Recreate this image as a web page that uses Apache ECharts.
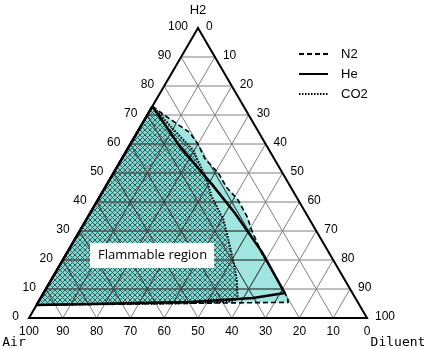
<!DOCTYPE html>
<html>
<head>
<meta charset="utf-8">
<script src="https://cdn.jsdelivr.net/npm/echarts@6/dist/echarts.min.js"></script>
<style>
html, body { margin: 0; padding: 0; background: #fff; }
#chart { width: 425px; height: 349px; }
</style>
</head>
<body>
<div id="chart"></div>
<script>
// tick values (percent)
const ticks = [0, 10, 20, 30, 40, 50, 60, 70, 80, 90, 100];
const gridSteps = [10, 20, 30, 40, 50, 60, 70, 80, 90];

// flammability boundaries, % H2 and % diluent (air = rest)
const n2H2 = [73, 70, 64, 60, 55, 50, 45, 40.7, 35, 30, 22, 16.6, 10, 7, 5.4, 5, 4.5, 73];
const n2Diluent = [0, 5, 15.5, 20, 24.5, 31, 36, 41.5, 47, 51, 58, 63.6, 70, 73, 74, 40, 0, 0];

const heH2 = [73, 59, 46, 36.2, 22.8, 10.3, 8.6, 6.9, 5.5, 4.5, 73];
const heDiluent = [0, 15.2, 31.2, 42.8, 57.5, 69.7, 71.4, 62.8, 45, 0, 0];

const co2H2 = [73, 66, 58, 48, 42, 34, 27, 20, 13, 6.5, 5.5, 5, 4.5, 73];
const co2Diluent = [0, 9, 19.5, 28.5, 33, 40.5, 45.5, 50.4, 55, 58.5, 56, 40, 0, 0];

const SQ = Math.sqrt(3) / 2;
function toXY(h, d) { return [d + h / 2, h * SQ]; }
function path(hs, ds) { return hs.map((h, i) => toXY(h, ds[i])); }

const n2Pts = path(n2H2, n2Diluent);
const hePts = path(heH2, heDiluent);
const co2Pts = path(co2H2, co2Diluent);

// cross hatch for the CO2 area
let pat = document.createElement('canvas');
pat.width = 5; pat.height = 5;
let pc = pat.getContext('2d');
pc.fillStyle = '#80d9d2';
pc.fillRect(0, 0, 5, 5);
pc.strokeStyle = '#355b58';
pc.lineWidth = 1;
pc.beginPath();
pc.moveTo(0, 0); pc.lineTo(5, 5);
pc.moveTo(5, 0); pc.lineTo(0, 5);
pc.stroke();

const tickFont = '12px "Liberation Sans", Arial, sans-serif';

let chart = echarts.init(document.getElementById('chart'));

function polygonSeries(pts, style, z) {
    return {
        type: 'custom',
        data: [[0, 0]],
        silent: true,
        z: z,
        renderItem: function (params, api) {
            return {
                type: 'polygon',
                shape: { points: pts.map(p => api.coord(p)) },
                style: style
            };
        }
    };
}

// grid lines, optionally clipped to the N2 area (darker there)
function gridSeries(color, clipPts, z) {
    return {
        type: 'custom',
        data: [[0, 0]],
        silent: true,
        z: z,
        renderItem: function (params, api) {
            let kids = [];
            function seg(a, b) {
                let p1 = api.coord(a), p2 = api.coord(b);
                kids.push({
                    type: 'line',
                    shape: { x1: p1[0], y1: p1[1], x2: p2[0], y2: p2[1] },
                    style: { stroke: color, lineWidth: 1 }
                });
            }
            gridSteps.forEach(v => {
                seg(toXY(v, 0), toXY(v, 100 - v));
                seg(toXY(0, v), toXY(100 - v, v));
                seg(toXY(0, 100 - v), toXY(100 - v, 0));
            });
            let g = { type: 'group', children: kids };
            if (clipPts) {
                g.clipPath = { type: 'polygon', shape: { points: clipPts.map(p => api.coord(p)) } };
            }
            return g;
        }
    };
}

let option = {
    animation: false,
    grid: { left: 29, top: 28, width: 338, height: 290 },
    xAxis: { type: 'value', min: 0, max: 100, show: false },
    yAxis: { type: 'value', min: 0, max: 100 * SQ, show: false },
    legend: {
        orient: 'vertical',
        left: 293,
        top: 42,
        itemWidth: 29,
        itemHeight: 8,
        itemGap: 6,
        data: ['N2', 'He', 'CO2'],
        textStyle: {
            fontSize: 13, lineHeight: 14, color: '#000',
            fontFamily: 'Liberation Sans, Arial, sans-serif',
            padding: [0, 0, 0, 8]
        }
    },
    graphic: [{
        type: 'text',
        left: 90,
        top: 243,
        z: 100,
        style: {
            text: 'Flammable region',
            font: '13px "Open Sans", sans-serif',
            fill: '#000',
            backgroundColor: '#fff',
            padding: [6, 7, 6, 8]
        }
    }],
    series: [
        polygonSeries(n2Pts, { fill: '#a0e5e0' }, 1),
        polygonSeries(co2Pts, { fill: { image: pat, repeat: 'repeat' } }, 2),
        gridSeries('#808080', null, 3),
        gridSeries('#2f3f3f', n2Pts, 3),
        {
            name: 'N2', type: 'line', data: n2Pts, symbol: 'none', silent: true, z: 4,
            lineStyle: { color: '#000', width: 1.6, type: [5, 3] }, itemStyle: { color: '#000', opacity: 0 }
        },
        {
            name: 'He', type: 'line', data: hePts, symbol: 'none', silent: true, z: 5,
            lineStyle: { color: '#000', width: 2.5, type: 'solid' }, itemStyle: { color: '#000', opacity: 0 }
        },
        {
            name: 'CO2', type: 'line', data: co2Pts, symbol: 'none', silent: true, z: 4,
            lineStyle: { color: '#000', width: 2, type: [1.5, 1.5] }, itemStyle: { color: '#000', opacity: 0 }
        },
        polygonSeries([toXY(0, 0), toXY(0, 100), toXY(100, 0)], { fill: 'none', stroke: '#000', lineWidth: 2 }, 6),
        {
            // tick and corner labels
            type: 'custom',
            data: [[0, 0]],
            silent: true,
            z: 7,
            renderItem: function (params, api) {
                let kids = [];
                function label(pt, dx, dy, text, align, font) {
                    let p = api.coord(pt);
                    kids.push({
                        type: 'text',
                        x: p[0] + dx,
                        y: p[1] + dy,
                        style: { text: text, fill: '#000', font: font || tickFont, align: align, verticalAlign: 'middle' }
                    });
                }
                ticks.forEach(v => {
                    label(toXY(v, 0), -10, -1, String(v), 'right');
                    label(toXY(100 - v, v), 8, -1, String(v), 'left');
                    label(toXY(0, 100 - v), 0, 14, String(v), 'center');
                });
                let cornerFont = '13px "DejaVu Sans Mono", monospace';
                label(toXY(100, 0), 0, -18, 'H2', 'center', '13px "Liberation Sans", Arial, sans-serif');
                label(toXY(0, 0), -15, 25, 'Air', 'center', cornerFont);
                label(toXY(0, 100), 31, 25, 'Diluent', 'center', cornerFont);
                return { type: 'group', children: kids };
            }
        }
    ]
};
chart.setOption(option);
</script>
</body>
</html>
